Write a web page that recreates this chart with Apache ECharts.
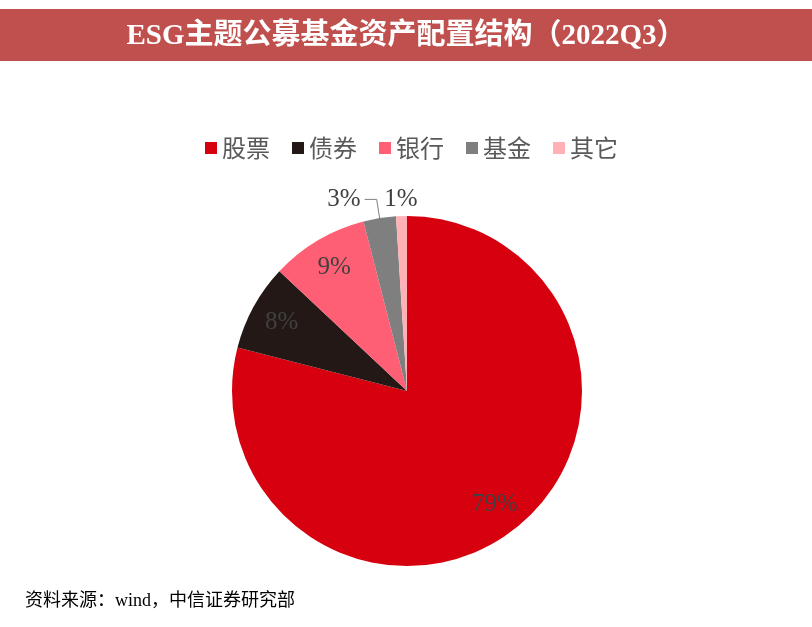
<!DOCTYPE html>
<html>
<head>
<meta charset="utf-8">
<script src="https://cdn.jsdelivr.net/npm/echarts@6/dist/echarts.min.js"></script>
<style>
html,body{margin:0;padding:0;background:#fff;}
#main{width:812px;height:627px;}
</style>
</head>
<body>
<div id="main"></div>
<script>
var categories = ['股票', '债券', '银行', '基金', '其它'];
var values = [79, 8, 9, 3, 1];
var colors = ['#D7000F', '#231815', '#FF5F74', '#7F7F7F', '#FFB1B6'];
var titleText = 'ESG主题公募基金资产配置结构（2022Q3）';
var sourceText = '资料来源：wind，中信证券研究部';

var R = 175;
var CENTER = [407, 391];
var labelFont = {fontFamily: '"Liberation Serif", "Times New Roman", serif', fontSize: 25, color: '#404040'};

function pieData(labelFor) {
  return categories.map(function (c, i) {
    return {name: c, value: values[i], itemStyle: {color: colors[i]}, label: labelFor(i)};
  });
}

var chart = echarts.init(document.getElementById('main'), null, {renderer: 'canvas'});
chart.setOption({
  animation: false,
  graphic: [{
    type: 'rect', z: 0,
    shape: {x: 0, y: 9, width: 812, height: 52},
    style: {fill: '#C0504D'}
  }],
  title: [{
    text: titleText,
    left: 'center', top: 17,
    textStyle: {color: '#fff', fontSize: 29, fontWeight: 'bold',
      fontFamily: '"Liberation Serif", "Noto Sans CJK SC", serif'}
  }, {
    text: sourceText,
    left: 20, top: 587,
    textStyle: {color: '#000', fontSize: 18, fontWeight: 'normal',
      fontFamily: '"Liberation Serif", "Noto Sans CJK SC", serif'}
  }],
  legend: {
    data: categories,
    left: 200, top: 131,
    icon: 'rect', itemWidth: 12, itemHeight: 12, itemGap: 22,
    textStyle: {fontSize: 24, color: '#595959', fontFamily: '"Noto Sans CJK SC", sans-serif', padding: [0, 0, 0, 0]}
  },
  series: [{
    type: 'pie',
    name: 'main',
    center: CENTER, radius: R,
    startAngle: 90, clockwise: true,
    avoidLabelOverlap: false,
    silent: true,
    itemStyle: {borderWidth: 0},
    labelLine: {show: true, length: 19, length2: 12, lineStyle: {color: '#7F7F7F', width: 1}},
    data: pieData(function (i) {
      return i === 3 ? Object.assign({show: true, position: 'outside', formatter: '{c}%', distanceToLabelLine: 4}, labelFont)
                     : {show: false};
    }).map(function (d, i) { if (i !== 3) d.labelLine = {show: false}; return d; })
  }, {
    type: 'pie',
    name: 'innerLabels',
    center: CENTER, radius: [R * 0.6, R],
    startAngle: 90, clockwise: true,
    avoidLabelOverlap: false, silent: true, legendHoverLink: false,
    labelLine: {show: false},
    data: pieData(function (i) {
      return i <= 2 ? Object.assign({show: true, position: 'inside', formatter: '{c}%'}, labelFont) : {show: false};
    }).map(function (d) { d.itemStyle = {color: 'rgba(0,0,0,0)'}; return d; })
  }, {
    type: 'pie',
    name: 'outerLabels',
    center: CENTER, radius: [R * 1.02, R * 1.14],
    startAngle: 90, clockwise: true,
    avoidLabelOverlap: false, silent: true, legendHoverLink: false,
    labelLine: {show: false},
    data: pieData(function (i) {
      return i === 4 ? Object.assign({show: true, position: 'inside', formatter: '{c}%'}, labelFont) : {show: false};
    }).map(function (d) { d.itemStyle = {color: 'rgba(0,0,0,0)'}; return d; })
  }]
});
</script>
</body>
</html>
